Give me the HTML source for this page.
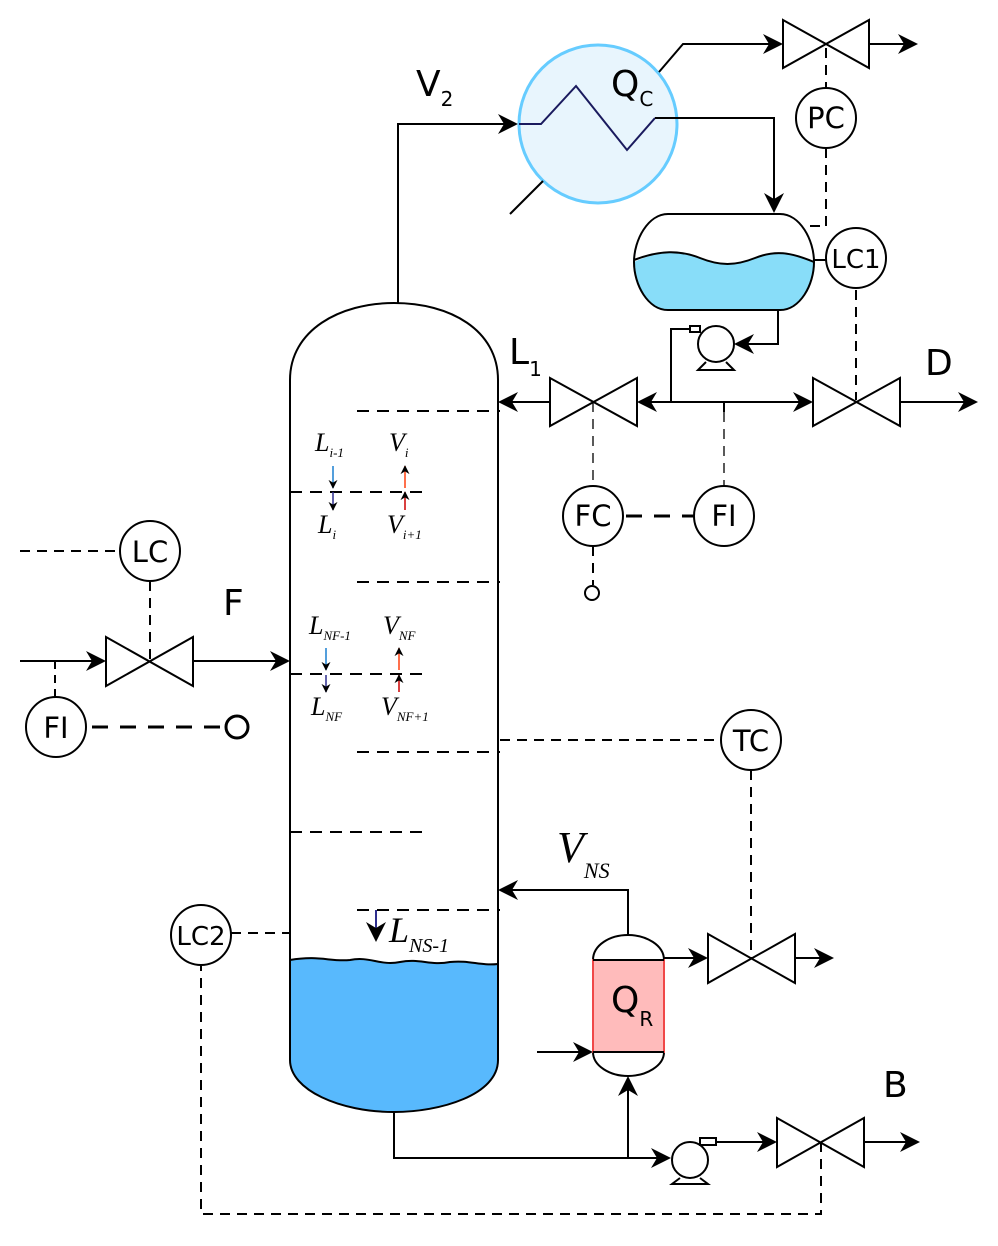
<!DOCTYPE html>
<html><head><meta charset="utf-8"><style>
html,body{margin:0;padding:0;background:#fff}
svg{display:block}
.s{font-family:"DejaVu Sans","Liberation Sans",sans-serif;fill:#000}
.i{font-family:"Liberation Serif",serif;font-style:italic;fill:#000}
</style></head><body>
<svg width="998" height="1246" viewBox="0 0 998 1246" xmlns="http://www.w3.org/2000/svg">
<defs>
<marker id="a" viewBox="0 0 10 10" refX="9" refY="5" markerWidth="9" markerHeight="9" markerUnits="userSpaceOnUse" orient="auto"><path d="M0,0 L10,5 L0,10 L3,5 z" fill="#000"/></marker>
<marker id="ab" viewBox="0 0 10 10" refX="9" refY="5" markerWidth="20" markerHeight="20" markerUnits="userSpaceOnUse" orient="auto"><path d="M0,0 L10,5 L0,10 L3,5 z" fill="#000"/></marker>
</defs>
<g fill="none" stroke="#000" stroke-width="2">
<path d="M290,960 C320,955 330,962 350,960 C370,956 380,966 400,962 C420,958 430,966 450,962 C470,960 480,966 498,964 L498,1060 C498,1095 440,1112 394,1112 C340,1112 290,1090 290,1060 Z" fill="#58b9fd"/>
<path d="M290,1060 L290,380 C290,330 340,303 394,303 C450,303 498,330 498,380 L498,1060"/>
<g stroke-dasharray="12,8">
<path d="M357,411H500 M290,492H430 M357,582H500 M290,674H430 M357,752H500 M290,832H430 M357,910H500"/>
</g>
<path d="M398,303 V124 H516" marker-end="url(#ab)"/>
<circle cx="598" cy="124" r="79" fill="#e8f5fd" stroke="#66ccff" stroke-width="3"/>
<path d="M519,124 H541 L576,86 L627,150 L655,118" stroke="#1a1a5e"/>
<path d="M655,118 H774 V211" marker-end="url(#ab)"/>
<path d="M510,214 L543,181"/>
<path d="M659,72 L683,44 H781" marker-end="url(#ab)"/>
<path d="M783,20 L869,68 V20 L783,68 Z"/>
<path d="M869,44 H916" marker-end="url(#ab)"/>
<circle cx="826" cy="118" r="30"/>
<path d="M826,48 V88 M826,148 V228 M810,226H826" stroke-dasharray="10,7"/>
<path d="M634,262 C660,250 680,250 700,258 C720,266 735,266 755,258 C775,250 790,252 814,262 L814,262 C814,285 800,310 780,310 H668 C648,310 634,285 634,262 Z" fill="#88ddf9" stroke="none"/>
<path d="M668,214 H780 C800,214 814,240 814,262 C814,285 800,310 780,310 H668 C648,310 634,285 634,262 C634,240 648,214 668,214 Z"/>
<path d="M634,260 C660,250 680,250 700,258 C720,266 735,266 755,258 C775,250 790,252 814,262"/>
<path d="M814,260 H826"/>
<circle cx="856" cy="258" r="30"/>
<path d="M856,290 V400" stroke-dasharray="10,7"/>
<circle cx="716" cy="344" r="18"/>
<path d="M706,362 L698,370 H734 L726,362"/>
<rect x="690" y="326" width="10" height="6"/>
<path d="M778,310 V344 H736" marker-end="url(#ab)"/>
<path d="M690,329 H671 V402"/>
<path d="M671,402 H639" marker-end="url(#ab)"/>
<path d="M671,402 H811" marker-end="url(#ab)"/>
<path d="M550,378 L637,426 V378 L550,426 Z"/>
<path d="M550,402 H500" marker-end="url(#ab)"/>
<path d="M813,378 L900,426 V378 L813,426 Z"/>
<path d="M900,402 H976" marker-end="url(#ab)"/>
<path d="M724,402 V412"/>
<path d="M724,412 V486 M593,402 V486" stroke-dasharray="10,7" stroke-width="1.3"/>
<circle cx="724" cy="516" r="30"/>
<circle cx="593" cy="516" r="30"/>
<path d="M626,516 H694" stroke-dasharray="16,12" stroke-width="3"/>
<path d="M593,546 V585" stroke-dasharray="10,7"/>
<circle cx="592" cy="593" r="7"/>
<path d="M20,661 H104" marker-end="url(#ab)"/>
<path d="M106,637 L193,686 V637 L106,686 Z"/>
<path d="M193,661 H288" marker-end="url(#ab)"/>
<circle cx="150" cy="551" r="30"/>
<path d="M20,551 H120 M150,581 V661" stroke-dasharray="10,7"/>
<circle cx="56" cy="727" r="30"/>
<path d="M55,661 V697" stroke-dasharray="8,6"/>
<path d="M92,727 H222" stroke-dasharray="16,12" stroke-width="3"/>
<circle cx="237" cy="727" r="11" stroke-width="3"/>
<circle cx="751" cy="740" r="30"/>
<path d="M500,740 H721 M751,770 V958" stroke-dasharray="10,7"/>
<path d="M708,934 L795,983 V934 L708,983 Z"/>
<path d="M664,958 H706" marker-end="url(#ab)"/>
<path d="M795,958 H832" marker-end="url(#ab)"/>
<path d="M628,935 V890 H500" marker-end="url(#ab)"/>
<path d="M593,960 C593,945 610,935 628,935 C646,935 664,945 664,960 M593,1052 C593,1066 610,1076 628,1076 C646,1076 664,1066 664,1052"/>
<rect x="593" y="960" width="71" height="92" fill="#ffbbbb" stroke="#f04848"/>
<path d="M593,960 H664 M593,1052 H664"/>
<path d="M537,1052 H591" marker-end="url(#ab)"/>
<path d="M394,1112 V1158 H669" marker-end="url(#ab)"/>
<path d="M628,1158 V1078" marker-end="url(#ab)"/>
<circle cx="690" cy="1160" r="18"/>
<path d="M680,1178 L672,1184 H708 L700,1178"/>
<rect x="700" y="1138" width="16" height="7"/>
<path d="M716,1142 H775" marker-end="url(#ab)"/>
<path d="M777,1118 L864,1167 V1118 L777,1167 Z"/>
<path d="M864,1142 H918" marker-end="url(#ab)"/>
<path d="M821,1142 V1214 H201 V966" stroke-dasharray="10,7"/>
<circle cx="201" cy="935" r="30"/>
<path d="M231,933 H290" stroke-dasharray="10,7"/>
<path d="M333,466 V488" stroke="#1a7fd0" stroke-width="1.5" marker-end="url(#a)"/>
<path d="M333,492 V510" stroke="#2e2e8e" stroke-width="1.5" marker-end="url(#a)"/>
<path d="M405,488 V466" stroke="#ff4010" stroke-width="1.5" marker-end="url(#a)"/>
<path d="M405,510 V492" stroke="#cc0000" stroke-width="1.5" marker-end="url(#a)"/>
<path d="M326,648 V670" stroke="#1a7fd0" stroke-width="1.5" marker-end="url(#a)"/>
<path d="M326,675 V692" stroke="#2e2e8e" stroke-width="1.5" marker-end="url(#a)"/>
<path d="M399,670 V648" stroke="#ff4010" stroke-width="1.5" marker-end="url(#a)"/>
<path d="M399,692 V675" stroke="#cc0000" stroke-width="1.5" marker-end="url(#a)"/>
<path d="M376,910 V940" stroke="#2e2e8e" stroke-width="2" marker-end="url(#ab)"/>
</g>
<g class="s" font-size="29" text-anchor="middle">
<text x="826" y="128">PC</text>
<text x="856" y="268" font-size="26">LC1</text>
<text x="593" y="526">FC</text>
<text x="724" y="526">FI</text>
<text x="150" y="562">LC</text>
<text x="56" y="738">FI</text>
<text x="751" y="751">TC</text>
<text x="201" y="945" font-size="26">LC2</text>
</g>
<g class="s" font-size="36">
<text x="416" y="96">V<tspan font-size="20" dy="10">2</tspan></text>
<text x="611" y="96">Q<tspan font-size="20" dy="10">C</tspan></text>
<text x="509" y="364">L<tspan font-size="20" dy="12">1</tspan></text>
<text x="925" y="375">D</text>
<text x="223" y="615">F</text>
<text x="883" y="1097">B</text>
<text x="611" y="1012">Q<tspan font-size="20" dy="14">R</tspan></text>
</g>
<g class="i" font-size="26">
<text x="315" y="451">L<tspan font-size="13" dy="6">i-1</tspan></text>
<text x="389" y="451">V<tspan font-size="13" dy="6">i</tspan></text>
<text x="318" y="533">L<tspan font-size="13" dy="6">i</tspan></text>
<text x="387" y="533">V<tspan font-size="13" dy="6">i+1</tspan></text>
<text x="309" y="634">L<tspan font-size="13" dy="6">NF-1</tspan></text>
<text x="383" y="634">V<tspan font-size="13" dy="6">NF</tspan></text>
<text x="311" y="715">L<tspan font-size="13" dy="6">NF</tspan></text>
<text x="381" y="715">V<tspan font-size="13" dy="6">NF+1</tspan></text>
<text x="389" y="942" font-size="36">L<tspan font-size="20" dy="10">NS-1</tspan></text>
<text x="557" y="862" font-size="44">V<tspan font-size="22" dy="16">NS</tspan></text>
</g>
</svg>
</body></html>
